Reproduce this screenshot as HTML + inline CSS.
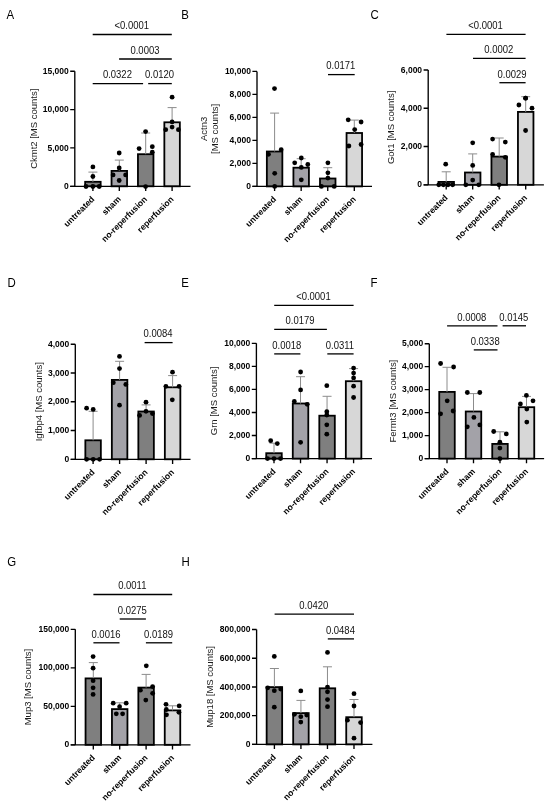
<!DOCTYPE html>
<html><head><meta charset="utf-8"><title>Figure</title><style>
html,body{margin:0;padding:0;background:#fff;}
svg{display:block;}
text{font-family:"Liberation Sans",Arial,sans-serif;fill:#000;}
.L{font-size:13px;}
.t{font-size:8.5px;font-weight:bold;text-anchor:end;}
.p{font-size:9.5px;text-anchor:middle;fill:#111;}
.y{font-size:9.5px;text-anchor:middle;fill:#1a1a1a;}
.x{font-size:8.6px;font-weight:bold;text-anchor:end;}
.a{fill:none;stroke:#000;stroke-width:1.35;}
.b{fill:none;stroke:#000;stroke-width:1.3;}
.e{fill:none;stroke:#8c8c8c;stroke-width:1.0;}
circle{fill:#000;}
</style></head>
<body><svg width="550" height="806" viewBox="0 0 550 806">
<rect width="550" height="806" fill="#fff"/>
<text class="L" transform="translate(6.6 18.6) scale(0.88 1)">A</text>
<rect x="85.15" y="181.8" width="15.5" height="4.5" fill="#7f7f7f" stroke="#000" stroke-width="1.8"/>
<rect x="111.55" y="170.9" width="15.5" height="15.4" fill="#a3a2a8" stroke="#000" stroke-width="1.8"/>
<rect x="137.95" y="154.2" width="15.5" height="32.1" fill="#7f7f7f" stroke="#000" stroke-width="1.8"/>
<rect x="164.35" y="122.3" width="15.5" height="64" fill="#d7d7d7" stroke="#000" stroke-width="1.8"/>
<path d="M92.9 181.8V172.1M88.4 172.1H97.4" class="e"/>
<path d="M119.3 170.9V160.1M114.8 160.1H123.8" class="e"/>
<path d="M145.7 154.2V133M141.2 133H150.2" class="e"/>
<path d="M172.1 122.3V107.6M167.6 107.6H176.6" class="e"/>
<path class="a" d="M74.8 71.2V186.3M70.2 186.3H190.5"/>
<path class="a" d="M70.2 186.3H74.8M70.2 147.93H74.8M70.2 109.57H74.8M70.2 71.2H74.8M92.9 186.3V190.9M119.3 186.3V190.9M145.7 186.3V190.9M172.1 186.3V190.9"/>
<text class="t" x="68.7" y="188.9">0</text>
<text class="t" x="68.7" y="150.53">5,000</text>
<text class="t" x="68.7" y="112.17">10,000</text>
<text class="t" x="68.7" y="73.8">15,000</text>
<circle cx="92.9" cy="166.9" r="2.4"/>
<circle cx="92.9" cy="176.5" r="2.4"/>
<circle cx="86" cy="186.5" r="2.4"/>
<circle cx="92.9" cy="186.5" r="2.4"/>
<circle cx="99.2" cy="186.5" r="2.4"/>
<circle cx="119.2" cy="153" r="2.4"/>
<circle cx="119.2" cy="168" r="2.4"/>
<circle cx="113.1" cy="174.9" r="2.4"/>
<circle cx="125.6" cy="174.9" r="2.4"/>
<circle cx="119.2" cy="180.5" r="2.4"/>
<circle cx="139.1" cy="148.6" r="2.4"/>
<circle cx="145.6" cy="131.6" r="2.4"/>
<circle cx="152.3" cy="146.7" r="2.4"/>
<circle cx="152.3" cy="152.2" r="2.4"/>
<circle cx="145.6" cy="186.6" r="2.4"/>
<circle cx="172.1" cy="97.2" r="2.4"/>
<circle cx="172.1" cy="121.9" r="2.4"/>
<circle cx="172.1" cy="127.1" r="2.4"/>
<circle cx="165.7" cy="129.7" r="2.4"/>
<circle cx="178.4" cy="129.7" r="2.4"/>
<path class="b" d="M92.7 34.5H171.8"/>
<text class="p" transform="translate(131.75 29.3) scale(1 1.15)">&lt;0.0001</text>
<path class="b" d="M119.1 59H171.8"/>
<text class="p" transform="translate(144.95 53.8) scale(1 1.15)">0.0003</text>
<path class="b" d="M92.7 83.6H143.1"/>
<text class="p" transform="translate(117.4 78.4) scale(1 1.15)">0.0322</text>
<path class="b" d="M148.2 83.6H171.8"/>
<text class="p" transform="translate(159.5 78.4) scale(1 1.15)">0.0120</text>
<text class="y" transform="translate(37.4 128.75) rotate(-90) scale(1 1.05)">Ckmt2 [MS counts]</text>
<text class="x" transform="translate(95 199.7) rotate(-45)">untreated</text>
<text class="x" transform="translate(121.4 199.7) rotate(-45)">sham</text>
<text class="x" transform="translate(147.8 199.7) rotate(-45)">no-reperfusion</text>
<text class="x" transform="translate(174.2 199.7) rotate(-45)">reperfusion</text>
<text class="L" transform="translate(181.3 18.6) scale(0.88 1)">B</text>
<rect x="266.85" y="151.5" width="15.5" height="34.9" fill="#7f7f7f" stroke="#000" stroke-width="1.8"/>
<rect x="293.42" y="167.7" width="15.5" height="18.7" fill="#a3a2a8" stroke="#000" stroke-width="1.8"/>
<rect x="319.99" y="178.5" width="15.5" height="7.9" fill="#7f7f7f" stroke="#000" stroke-width="1.8"/>
<rect x="346.56" y="133" width="15.5" height="53.4" fill="#d7d7d7" stroke="#000" stroke-width="1.8"/>
<path d="M274.6 151.5V113.1M270.1 113.1H279.1" class="e"/>
<path d="M301.17 167.7V158.7M296.67 158.7H305.67" class="e"/>
<path d="M327.74 178.5V167.7M323.24 167.7H332.24" class="e"/>
<path d="M354.31 133V120.1M349.81 120.1H358.81" class="e"/>
<path class="a" d="M257 71.4V186.4M252.4 186.4H372"/>
<path class="a" d="M252.4 186.4H257M252.4 163.4H257M252.4 140.4H257M252.4 117.4H257M252.4 94.4H257M252.4 71.4H257M274.6 186.4V191M301.17 186.4V191M327.74 186.4V191M354.31 186.4V191"/>
<text class="t" x="250.9" y="189">0</text>
<text class="t" x="250.9" y="166">2,000</text>
<text class="t" x="250.9" y="143">4,000</text>
<text class="t" x="250.9" y="120">6,000</text>
<text class="t" x="250.9" y="97">8,000</text>
<text class="t" x="250.9" y="74">10,000</text>
<circle cx="274.5" cy="88.6" r="2.4"/>
<circle cx="268.5" cy="154.3" r="2.4"/>
<circle cx="281.2" cy="149.7" r="2.4"/>
<circle cx="274.7" cy="173.3" r="2.4"/>
<circle cx="274.7" cy="186.4" r="2.4"/>
<circle cx="301.3" cy="158" r="2.4"/>
<circle cx="294.7" cy="162.8" r="2.4"/>
<circle cx="307.8" cy="164.5" r="2.4"/>
<circle cx="301.3" cy="167.4" r="2.4"/>
<circle cx="301.3" cy="179.8" r="2.4"/>
<circle cx="327.9" cy="162.8" r="2.4"/>
<circle cx="327.9" cy="172.8" r="2.4"/>
<circle cx="327.9" cy="178.1" r="2.4"/>
<circle cx="321.4" cy="186.4" r="2.4"/>
<circle cx="334.2" cy="186.4" r="2.4"/>
<circle cx="348.2" cy="119.8" r="2.4"/>
<circle cx="361.1" cy="122" r="2.4"/>
<circle cx="354.7" cy="129.6" r="2.4"/>
<circle cx="348.9" cy="146" r="2.4"/>
<circle cx="361.1" cy="144.5" r="2.4"/>
<path class="b" d="M328 74.6H354.7"/>
<text class="p" transform="translate(340.85 69.4) scale(1 1.15)">0.0171</text>
<text class="y" transform="translate(207.4 128.9) rotate(-90) scale(1 1.05)">Actn3</text>
<text class="y" transform="translate(218.3 128.9) rotate(-90) scale(1 1.05)">[MS counts]</text>
<text class="x" transform="translate(276.7 199.8) rotate(-45)">untreated</text>
<text class="x" transform="translate(303.27 199.8) rotate(-45)">sham</text>
<text class="x" transform="translate(329.84 199.8) rotate(-45)">no-reperfusion</text>
<text class="x" transform="translate(356.41 199.8) rotate(-45)">reperfusion</text>
<text class="L" transform="translate(370.6 18.6) scale(0.88 1)">C</text>
<rect x="438.45" y="181.9" width="15.5" height="2.9" fill="#7f7f7f" stroke="#000" stroke-width="1.8"/>
<rect x="464.95" y="172.5" width="15.5" height="12.3" fill="#a3a2a8" stroke="#000" stroke-width="1.8"/>
<rect x="491.45" y="156.6" width="15.5" height="28.2" fill="#7f7f7f" stroke="#000" stroke-width="1.8"/>
<rect x="517.95" y="111.9" width="15.5" height="72.9" fill="#d7d7d7" stroke="#000" stroke-width="1.8"/>
<path d="M446.2 181.9V171.8M441.7 171.8H450.7" class="e"/>
<path d="M472.7 172.5V153.9M468.2 153.9H477.2" class="e"/>
<path d="M499.2 156.6V138M494.7 138H503.7" class="e"/>
<path d="M525.7 111.9V96.7M521.2 96.7H530.2" class="e"/>
<path class="a" d="M428.2 70V184.8M423.6 184.8H543.9"/>
<path class="a" d="M423.6 184.8H428.2M423.6 146.53H428.2M423.6 108.27H428.2M423.6 70H428.2M446.2 184.8V189.4M472.7 184.8V189.4M499.2 184.8V189.4M525.7 184.8V189.4"/>
<text class="t" x="422.1" y="187.4">0</text>
<text class="t" x="422.1" y="149.13">2,000</text>
<text class="t" x="422.1" y="110.87">4,000</text>
<text class="t" x="422.1" y="72.6">6,000</text>
<circle cx="445.7" cy="164.2" r="2.4"/>
<circle cx="438.8" cy="184.8" r="2.4"/>
<circle cx="443.4" cy="184.8" r="2.4"/>
<circle cx="448" cy="184.8" r="2.4"/>
<circle cx="452.6" cy="184.8" r="2.4"/>
<circle cx="472.7" cy="142.8" r="2.4"/>
<circle cx="472.7" cy="165.4" r="2.4"/>
<circle cx="472.7" cy="180.1" r="2.4"/>
<circle cx="465.8" cy="184.8" r="2.4"/>
<circle cx="478.8" cy="184.8" r="2.4"/>
<circle cx="492.6" cy="139.1" r="2.4"/>
<circle cx="505.3" cy="142.1" r="2.4"/>
<circle cx="492.6" cy="154.4" r="2.4"/>
<circle cx="505.3" cy="157.3" r="2.4"/>
<circle cx="499" cy="184.8" r="2.4"/>
<circle cx="525.6" cy="98.2" r="2.4"/>
<circle cx="518.9" cy="105" r="2.4"/>
<circle cx="532" cy="108.2" r="2.4"/>
<circle cx="525.6" cy="130.5" r="2.4"/>
<circle cx="525.6" cy="98.2" r="2.4"/>
<path class="b" d="M446.4 34.3H525.6"/>
<text class="p" transform="translate(485.5 29.1) scale(1 1.15)">&lt;0.0001</text>
<path class="b" d="M473 58.3H525.6"/>
<text class="p" transform="translate(498.8 53.1) scale(1 1.15)">0.0002</text>
<path class="b" d="M499.4 82.7H525.6"/>
<text class="p" transform="translate(512 77.5) scale(1 1.15)">0.0029</text>
<text class="y" transform="translate(394.4 127.4) rotate(-90) scale(1 1.05)">Got1 [MS counts]</text>
<text class="x" transform="translate(448.3 198.2) rotate(-45)">untreated</text>
<text class="x" transform="translate(474.8 198.2) rotate(-45)">sham</text>
<text class="x" transform="translate(501.3 198.2) rotate(-45)">no-reperfusion</text>
<text class="x" transform="translate(527.8 198.2) rotate(-45)">reperfusion</text>
<text class="L" transform="translate(7.4 287) scale(0.88 1)">D</text>
<rect x="85.35" y="440.3" width="15.5" height="19" fill="#7f7f7f" stroke="#000" stroke-width="1.8"/>
<rect x="111.85" y="379.9" width="15.5" height="79.4" fill="#a3a2a8" stroke="#000" stroke-width="1.8"/>
<rect x="138.35" y="411.5" width="15.5" height="47.8" fill="#7f7f7f" stroke="#000" stroke-width="1.8"/>
<rect x="164.85" y="387.3" width="15.5" height="72" fill="#d7d7d7" stroke="#000" stroke-width="1.8"/>
<path d="M93.1 440.3V411.3M88.6 411.3H97.6" class="e"/>
<path d="M119.6 379.9V361.3M115.1 361.3H124.1" class="e"/>
<path d="M146.1 411.5V404.9M141.6 404.9H150.6" class="e"/>
<path d="M172.6 387.3V375.6M168.1 375.6H177.1" class="e"/>
<path class="a" d="M75.3 344.2V459.3M70.7 459.3H190.5"/>
<path class="a" d="M70.7 459.3H75.3M70.7 430.52H75.3M70.7 401.75H75.3M70.7 372.98H75.3M70.7 344.2H75.3M93.1 459.3V463.9M119.6 459.3V463.9M146.1 459.3V463.9M172.6 459.3V463.9"/>
<text class="t" x="69.2" y="461.9">0</text>
<text class="t" x="69.2" y="433.12">1,000</text>
<text class="t" x="69.2" y="404.35">2,000</text>
<text class="t" x="69.2" y="375.58">3,000</text>
<text class="t" x="69.2" y="346.8">4,000</text>
<circle cx="86.6" cy="408.2" r="2.4"/>
<circle cx="93.2" cy="409.4" r="2.4"/>
<circle cx="86.6" cy="459.3" r="2.4"/>
<circle cx="93.2" cy="459.3" r="2.4"/>
<circle cx="99.6" cy="459.3" r="2.4"/>
<circle cx="119.5" cy="356.4" r="2.4"/>
<circle cx="119.5" cy="368.6" r="2.4"/>
<circle cx="113.3" cy="382.7" r="2.4"/>
<circle cx="125.8" cy="384.4" r="2.4"/>
<circle cx="119.5" cy="405.2" r="2.4"/>
<circle cx="146" cy="402.2" r="2.4"/>
<circle cx="139.6" cy="415.4" r="2.4"/>
<circle cx="146" cy="411.3" r="2.4"/>
<circle cx="152.4" cy="413.6" r="2.4"/>
<circle cx="172.5" cy="372.2" r="2.4"/>
<circle cx="165.9" cy="386.3" r="2.4"/>
<circle cx="179.1" cy="386.3" r="2.4"/>
<circle cx="172.3" cy="399.8" r="2.4"/>
<path class="b" d="M144.6 342.6H172.6"/>
<text class="p" transform="translate(158.1 337.4) scale(1 1.15)">0.0084</text>
<text class="y" transform="translate(41.6 401.75) rotate(-90) scale(1 1.05)">Igfbp4 [MS counts]</text>
<text class="x" transform="translate(95.2 472.7) rotate(-45)">untreated</text>
<text class="x" transform="translate(121.7 472.7) rotate(-45)">sham</text>
<text class="x" transform="translate(148.2 472.7) rotate(-45)">no-reperfusion</text>
<text class="x" transform="translate(174.7 472.7) rotate(-45)">reperfusion</text>
<text class="L" transform="translate(181.3 287) scale(0.88 1)">E</text>
<rect x="266.25" y="453.2" width="15.5" height="5.4" fill="#7f7f7f" stroke="#000" stroke-width="1.8"/>
<rect x="292.78" y="403.5" width="15.5" height="55.1" fill="#a3a2a8" stroke="#000" stroke-width="1.8"/>
<rect x="319.31" y="415.7" width="15.5" height="42.9" fill="#7f7f7f" stroke="#000" stroke-width="1.8"/>
<rect x="345.84" y="381.2" width="15.5" height="77.4" fill="#d7d7d7" stroke="#000" stroke-width="1.8"/>
<path d="M274 453.2V443.2M269.5 443.2H278.5" class="e"/>
<path d="M300.53 403.5V376.7M296.03 376.7H305.03" class="e"/>
<path d="M327.06 415.7V396.3M322.56 396.3H331.56" class="e"/>
<path d="M353.59 381.2V368.6M349.09 368.6H358.09" class="e"/>
<path class="a" d="M256.4 343.3V458.6M251.8 458.6H372"/>
<path class="a" d="M251.8 458.6H256.4M251.8 435.54H256.4M251.8 412.48H256.4M251.8 389.42H256.4M251.8 366.36H256.4M251.8 343.3H256.4M274 458.6V463.2M300.53 458.6V463.2M327.06 458.6V463.2M353.59 458.6V463.2"/>
<text class="t" x="250.3" y="461.2">0</text>
<text class="t" x="250.3" y="438.14">2,000</text>
<text class="t" x="250.3" y="415.08">4,000</text>
<text class="t" x="250.3" y="392.02">6,000</text>
<text class="t" x="250.3" y="368.96">8,000</text>
<text class="t" x="250.3" y="345.9">10,000</text>
<circle cx="270.7" cy="440.7" r="2.4"/>
<circle cx="277.3" cy="443.6" r="2.4"/>
<circle cx="267.5" cy="458.6" r="2.4"/>
<circle cx="274" cy="458.6" r="2.4"/>
<circle cx="280.5" cy="458.6" r="2.4"/>
<circle cx="300.6" cy="372" r="2.4"/>
<circle cx="300.6" cy="389.9" r="2.4"/>
<circle cx="294.3" cy="401.5" r="2.4"/>
<circle cx="307.2" cy="404.3" r="2.4"/>
<circle cx="300.6" cy="442.3" r="2.4"/>
<circle cx="326.8" cy="385.7" r="2.4"/>
<circle cx="326.8" cy="411.7" r="2.4"/>
<circle cx="326.8" cy="424.8" r="2.4"/>
<circle cx="326.8" cy="434.2" r="2.4"/>
<circle cx="326.8" cy="415" r="2.4"/>
<circle cx="353.6" cy="368.1" r="2.4"/>
<circle cx="353.6" cy="373.1" r="2.4"/>
<circle cx="353.6" cy="377.9" r="2.4"/>
<circle cx="353.6" cy="386.2" r="2.4"/>
<circle cx="353.6" cy="397.5" r="2.4"/>
<path class="b" d="M274.2 305.4H353.6"/>
<text class="p" transform="translate(313.4 300.2) scale(1 1.15)">&lt;0.0001</text>
<path class="b" d="M274.2 329.4H326.9"/>
<text class="p" transform="translate(300.05 324.2) scale(1 1.15)">0.0179</text>
<path class="b" d="M274.2 353.9H300.4"/>
<text class="p" transform="translate(286.8 348.7) scale(1 1.15)">0.0018</text>
<path class="b" d="M327.3 353.9H353.6"/>
<text class="p" transform="translate(339.95 348.7) scale(1 1.15)">0.0311</text>
<text class="y" transform="translate(216.8 400.95) rotate(-90) scale(1 1.05)">Grn [MS counts]</text>
<text class="x" transform="translate(276.1 472) rotate(-45)">untreated</text>
<text class="x" transform="translate(302.63 472) rotate(-45)">sham</text>
<text class="x" transform="translate(329.16 472) rotate(-45)">no-reperfusion</text>
<text class="x" transform="translate(355.69 472) rotate(-45)">reperfusion</text>
<text class="L" transform="translate(370.5 287) scale(0.88 1)">F</text>
<rect x="439.25" y="391.9" width="15.5" height="66.7" fill="#7f7f7f" stroke="#000" stroke-width="1.8"/>
<rect x="465.75" y="411.5" width="15.5" height="47.1" fill="#a3a2a8" stroke="#000" stroke-width="1.8"/>
<rect x="492.25" y="443.9" width="15.5" height="14.7" fill="#7f7f7f" stroke="#000" stroke-width="1.8"/>
<rect x="518.75" y="407.2" width="15.5" height="51.4" fill="#d7d7d7" stroke="#000" stroke-width="1.8"/>
<path d="M447 391.9V367.3M442.5 367.3H451.5" class="e"/>
<path d="M473.5 411.5V393.6M469 393.6H478" class="e"/>
<path d="M500 443.9V431.8M495.5 431.8H504.5" class="e"/>
<path d="M526.5 407.2V396.4M522 396.4H531" class="e"/>
<path class="a" d="M429.3 343.7V458.6M424.7 458.6H544.1"/>
<path class="a" d="M424.7 458.6H429.3M424.7 435.62H429.3M424.7 412.64H429.3M424.7 389.66H429.3M424.7 366.68H429.3M424.7 343.7H429.3M447 458.6V463.2M473.5 458.6V463.2M500 458.6V463.2M526.5 458.6V463.2"/>
<text class="t" x="423.2" y="461.2">0</text>
<text class="t" x="423.2" y="438.22">1,000</text>
<text class="t" x="423.2" y="415.24">2,000</text>
<text class="t" x="423.2" y="392.26">3,000</text>
<text class="t" x="423.2" y="369.28">4,000</text>
<text class="t" x="423.2" y="346.3">5,000</text>
<circle cx="440.6" cy="363.5" r="2.4"/>
<circle cx="453.6" cy="367" r="2.4"/>
<circle cx="447.2" cy="400.8" r="2.4"/>
<circle cx="440.6" cy="413.8" r="2.4"/>
<circle cx="453.1" cy="411" r="2.4"/>
<circle cx="467.3" cy="392.5" r="2.4"/>
<circle cx="479.8" cy="392.5" r="2.4"/>
<circle cx="473.9" cy="417.4" r="2.4"/>
<circle cx="467.3" cy="426.8" r="2.4"/>
<circle cx="479.8" cy="424.9" r="2.4"/>
<circle cx="493.7" cy="431.5" r="2.4"/>
<circle cx="506.3" cy="433.9" r="2.4"/>
<circle cx="499.9" cy="442.2" r="2.4"/>
<circle cx="499.9" cy="448.1" r="2.4"/>
<circle cx="499.9" cy="458.7" r="2.4"/>
<circle cx="526.4" cy="395.4" r="2.4"/>
<circle cx="520.4" cy="403.9" r="2.4"/>
<circle cx="533" cy="400.8" r="2.4"/>
<circle cx="526.8" cy="409.1" r="2.4"/>
<circle cx="526.8" cy="422.1" r="2.4"/>
<path class="b" d="M447.1 325.8H497.5"/>
<text class="p" transform="translate(471.8 320.6) scale(1 1.15)">0.0008</text>
<path class="b" d="M502.6 325.8H526"/>
<text class="p" transform="translate(513.8 320.6) scale(1 1.15)">0.0145</text>
<path class="b" d="M473.8 349.9H497.5"/>
<text class="p" transform="translate(485.15 344.7) scale(1 1.15)">0.0338</text>
<text class="y" transform="translate(395.6 401.15) rotate(-90) scale(1 1.05)">Fermt3 [MS counts]</text>
<text class="x" transform="translate(449.1 472) rotate(-45)">untreated</text>
<text class="x" transform="translate(475.6 472) rotate(-45)">sham</text>
<text class="x" transform="translate(502.1 472) rotate(-45)">no-reperfusion</text>
<text class="x" transform="translate(528.6 472) rotate(-45)">reperfusion</text>
<text class="L" transform="translate(7.2 565.7) scale(0.88 1)">G</text>
<rect x="85.55" y="678.4" width="15.5" height="66.4" fill="#7f7f7f" stroke="#000" stroke-width="1.8"/>
<rect x="111.95" y="709.1" width="15.5" height="35.7" fill="#a3a2a8" stroke="#000" stroke-width="1.8"/>
<rect x="138.35" y="687.6" width="15.5" height="57.2" fill="#7f7f7f" stroke="#000" stroke-width="1.8"/>
<rect x="164.75" y="710.4" width="15.5" height="34.4" fill="#d7d7d7" stroke="#000" stroke-width="1.8"/>
<path d="M93.3 678.4V662.6M88.8 662.6H97.8" class="e"/>
<path d="M119.7 709.1V702.8M115.2 702.8H124.2" class="e"/>
<path d="M146.1 687.6V674.4M141.6 674.4H150.6" class="e"/>
<path d="M172.5 710.4V705.8M168 705.8H177" class="e"/>
<path class="a" d="M75.3 629.3V744.8M70.7 744.8H190.5"/>
<path class="a" d="M70.7 744.8H75.3M70.7 706.3H75.3M70.7 667.8H75.3M70.7 629.3H75.3M93.3 744.8V749.4M119.7 744.8V749.4M146.1 744.8V749.4M172.5 744.8V749.4"/>
<text class="t" x="69.2" y="747.4">0</text>
<text class="t" x="69.2" y="708.9">50,000</text>
<text class="t" x="69.2" y="670.4">100,000</text>
<text class="t" x="69.2" y="631.9">150,000</text>
<circle cx="93.1" cy="656.6" r="2.4"/>
<circle cx="93.1" cy="668.2" r="2.4"/>
<circle cx="93.1" cy="680.7" r="2.4"/>
<circle cx="93.1" cy="687.8" r="2.4"/>
<circle cx="93.1" cy="694.4" r="2.4"/>
<circle cx="113.2" cy="703.2" r="2.4"/>
<circle cx="126.2" cy="703.2" r="2.4"/>
<circle cx="119.6" cy="706.7" r="2.4"/>
<circle cx="116.3" cy="713.8" r="2.4"/>
<circle cx="122.6" cy="713.8" r="2.4"/>
<circle cx="146.3" cy="665.8" r="2.4"/>
<circle cx="140.4" cy="690.2" r="2.4"/>
<circle cx="152.6" cy="686.6" r="2.4"/>
<circle cx="152.6" cy="693.3" r="2.4"/>
<circle cx="145.8" cy="700.1" r="2.4"/>
<circle cx="166" cy="704.3" r="2.4"/>
<circle cx="179.2" cy="705.9" r="2.4"/>
<circle cx="166.3" cy="709.5" r="2.4"/>
<circle cx="166.5" cy="714.8" r="2.4"/>
<circle cx="178.9" cy="712.3" r="2.4"/>
<path class="b" d="M93.4 594.5H172.2"/>
<text class="p" transform="translate(132.3 589.3) scale(1 1.15)">0.0011</text>
<path class="b" d="M119.7 619H145.9"/>
<text class="p" transform="translate(132.3 613.8) scale(1 1.15)">0.0275</text>
<path class="b" d="M93.4 642.8H119.5"/>
<text class="p" transform="translate(105.95 637.6) scale(1 1.15)">0.0016</text>
<path class="b" d="M145.9 642.8H172.2"/>
<text class="p" transform="translate(158.55 637.6) scale(1 1.15)">0.0189</text>
<text class="y" transform="translate(31 687.05) rotate(-90) scale(1 1.05)">Mup3 [MS counts]</text>
<text class="x" transform="translate(95.4 758.2) rotate(-45)">untreated</text>
<text class="x" transform="translate(121.8 758.2) rotate(-45)">sham</text>
<text class="x" transform="translate(148.2 758.2) rotate(-45)">no-reperfusion</text>
<text class="x" transform="translate(174.6 758.2) rotate(-45)">reperfusion</text>
<text class="L" transform="translate(181.6 565.7) scale(0.88 1)">H</text>
<rect x="266.65" y="687.1" width="15.5" height="57.3" fill="#7f7f7f" stroke="#000" stroke-width="1.8"/>
<rect x="293.18" y="713.1" width="15.5" height="31.3" fill="#a3a2a8" stroke="#000" stroke-width="1.8"/>
<rect x="319.71" y="688.3" width="15.5" height="56.1" fill="#7f7f7f" stroke="#000" stroke-width="1.8"/>
<rect x="346.24" y="717.2" width="15.5" height="27.2" fill="#d7d7d7" stroke="#000" stroke-width="1.8"/>
<path d="M274.4 687.1V668.5M269.9 668.5H278.9" class="e"/>
<path d="M300.93 713.1V700.4M296.43 700.4H305.43" class="e"/>
<path d="M327.46 688.3V666.8M322.96 666.8H331.96" class="e"/>
<path d="M353.99 717.2V699.5M349.49 699.5H358.49" class="e"/>
<path class="a" d="M256.6 629.5V744.4M252 744.4H372.4"/>
<path class="a" d="M252 744.4H256.6M252 715.67H256.6M252 686.95H256.6M252 658.23H256.6M252 629.5H256.6M274.4 744.4V749M300.93 744.4V749M327.46 744.4V749M353.99 744.4V749"/>
<text class="t" x="250.5" y="747">0</text>
<text class="t" x="250.5" y="718.27">200,000</text>
<text class="t" x="250.5" y="689.55">400,000</text>
<text class="t" x="250.5" y="660.83">600,000</text>
<text class="t" x="250.5" y="632.1">800,000</text>
<circle cx="274.3" cy="656.4" r="2.4"/>
<circle cx="267.7" cy="687.8" r="2.4"/>
<circle cx="280.7" cy="689" r="2.4"/>
<circle cx="274.3" cy="690.7" r="2.4"/>
<circle cx="274.3" cy="707.2" r="2.4"/>
<circle cx="300.8" cy="690.9" r="2.4"/>
<circle cx="294.4" cy="714.3" r="2.4"/>
<circle cx="306.7" cy="715" r="2.4"/>
<circle cx="300.8" cy="716.7" r="2.4"/>
<circle cx="300.8" cy="722.1" r="2.4"/>
<circle cx="327.5" cy="652.4" r="2.4"/>
<circle cx="327.5" cy="687.1" r="2.4"/>
<circle cx="327.5" cy="691.8" r="2.4"/>
<circle cx="327.5" cy="699.6" r="2.4"/>
<circle cx="327.5" cy="706.7" r="2.4"/>
<circle cx="354" cy="693.7" r="2.4"/>
<circle cx="354" cy="706" r="2.4"/>
<circle cx="347.4" cy="720.2" r="2.4"/>
<circle cx="360.6" cy="722.6" r="2.4"/>
<circle cx="354" cy="738.2" r="2.4"/>
<path class="b" d="M274.6 614.2H354"/>
<text class="p" transform="translate(313.8 609) scale(1 1.15)">0.0420</text>
<path class="b" d="M327.8 638.9H354"/>
<text class="p" transform="translate(340.4 633.7) scale(1 1.15)">0.0484</text>
<text class="y" transform="translate(213 686.95) rotate(-90) scale(1 1.05)">Mup18 [MS counts]</text>
<text class="x" transform="translate(276.5 757.8) rotate(-45)">untreated</text>
<text class="x" transform="translate(303.03 757.8) rotate(-45)">sham</text>
<text class="x" transform="translate(329.56 757.8) rotate(-45)">no-reperfusion</text>
<text class="x" transform="translate(356.09 757.8) rotate(-45)">reperfusion</text>
</svg></body></html>
